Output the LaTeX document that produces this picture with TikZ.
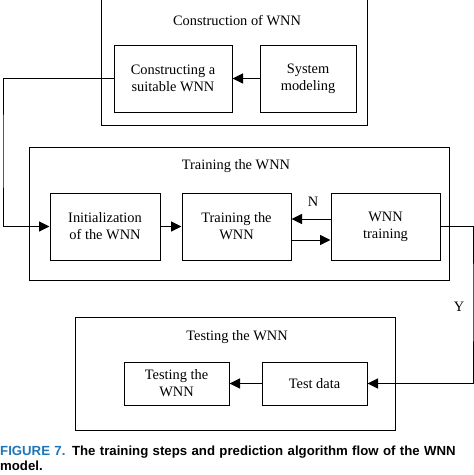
\documentclass[tikz,border=0pt]{standalone}
\usepackage{fontspec}
\setmainfont{Liberation Serif}
\newfontfamily\capfont{Liberation Sans}
\usepackage{xcolor}
\usetikzlibrary{arrows.meta,positioning}
\definecolor{CapBlue}{HTML}{1F75B5}

\begin{document}
\begin{tikzpicture}[
  x=1pt,y=-1pt,
  grp/.style={draw,line width=1pt,inner sep=0pt},
  blk/.style={draw,line width=1pt,inner sep=0pt,minimum height=67pt,align=center,
    font=\fontsize{14.4}{17}\selectfont},
  ttl/.style={font=\fontsize{14.4}{17}\selectfont,inner sep=0pt},
  a/.style={-{Triangle[length=10.5pt,width=10pt]},line width=1pt}
]
  \useasboundingbox (0,0) rectangle (474,475);
  \clip (0,0) rectangle (474,475);
  % construction stage
  \node[grp,minimum width=266pt,minimum height=128pt] (cons) at (234,61) {};
  \node[ttl] (consTitle) at (237,21) {Construction of WNN};
  \node[blk,minimum width=118pt] (build) at (173,78.5) {Constructing a\\suitable WNN};
  \node[blk,minimum width=96pt] (sysmod) at (308,78.5) {System\\modeling};
  % training stage
  \node[grp,minimum width=420pt,minimum height=133pt] (train) at (239,213.5) {};
  \node[ttl] (trainTitle) at (236,166) {Training the WNN};
  \node[blk,minimum width=110pt] (init) at (105,226.5) {Initialization\\of the WNN};
  \node[blk,minimum width=109pt] (trainwnn) at (236.5,226.5) {Training the\\WNN};
  \node[blk,minimum width=109pt] (check) at (385.5,226.5) {WNN\\training};
  % testing stage
  \node[grp,minimum width=320pt,minimum height=113pt] (test) at (235,373.5) {};
  \node[ttl] (testTitle) at (237,337) {Testing the WNN};
  \node[blk,minimum width=105pt,minimum height=43pt] (testwnn) at (176.5,383.5) {Testing the\\WNN};
  \node[blk,minimum width=105pt,minimum height=43pt] (testdata) at (314.5,383.5) {Test data};
  \coordinate (leftrail) at (3,150);
  \coordinate (rightrail) at (473,300);
  \draw[a] (sysmod) -- (build);
  \draw[a] (build.west) -| (leftrail) |- (init.west);
  \draw[a] (init) -- (trainwnn);
  \draw[a] ([yshift=7.5pt]check.west) -- ([yshift=7.5pt]trainwnn.east);
  \draw[a] ([yshift=-13.5pt]trainwnn.east) -- ([yshift=-13.5pt]check.west);
  \node[ttl] (nlabel) at (313,202) {N};
  \draw[a] (check.east) -| (rightrail) |- (testdata.east);
  \node[ttl] (ylabel) at (459,307) {Y};
  \draw[a] (testdata) -- (testwnn);
  % caption
  \node[anchor=north west,inner sep=0pt,text width=480pt,align=left,
    font=\capfont\bfseries\fontsize{13.2}{15}\selectfont] (caption) at (0,446)
    {\textcolor{CapBlue}{FIGURE 7.} The training steps and prediction algorithm flow of the WNN\\model.};
\end{tikzpicture}
\end{document}
